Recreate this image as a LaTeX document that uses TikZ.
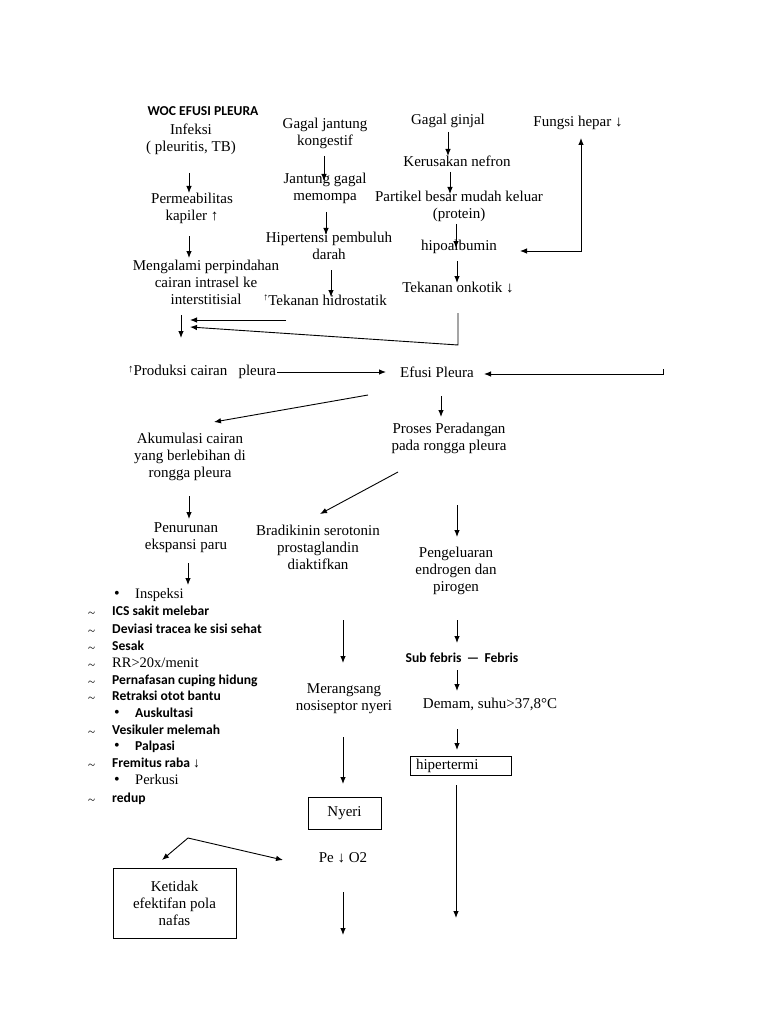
\documentclass[tikz,border=0pt]{standalone}
\usepackage{fontspec}
\setmainfont{Liberation Serif}
\newfontfamily\carl{Carlito}
\newfontfamily\lsans{Liberation Sans}
\newcommand\cbb{\carl\bfseries}
\usetikzlibrary{arrows.meta}
\begin{document}
\begin{tikzpicture}[x=1pt,y=-1pt,
  txt/.style={inner sep=0pt,align=center,font=\fontsize{15}{17}\selectfont},
  itm/.style={inner sep=0pt,anchor=base west,font=\fontsize{13}{15}\selectfont},
  sb/.style={itm,font=\cbb\fontsize{13.6}{15}\selectfont},
  box/.style={draw,line width=0.9pt,inner sep=0pt,align=center,font=\fontsize{15}{17}\selectfont},
  arr/.style={line width=0.9pt,-{Latex[length=7pt,width=5.5pt]}},
  ln/.style={line width=0.9pt}]
\useasboundingbox[fill=white] (0,0) rectangle (768,1024);

% ---- top block
\node[txt,font=\cbb\fontsize{13.6}{15}\selectfont] (title) at (203,111) {WOC EFUSI PLEURA};
\node[txt] (infeksi) at (191,139) {Infeksi\\( pleuritis, TB)};
\node[txt] (perm) at (192,208) {Permeabilitas\\kapiler ↑};
\node[txt] (meng) at (206,282) {Mengalami perpindahan\\cairan intrasel ke\\interstitisial};
\node[txt] (gjk) at (325,133) {Gagal jantung\\kongestif};
\node[txt] (jgm) at (325,188) {Jantung gagal\\memompa};
\node[txt] (hpd) at (329,246) {Hipertensi pembuluh\\darah};
\node[txt] (hidro) at (325,300) {\raisebox{5pt}{\fontsize{10}{10}\selectfont↑}Tekanan hidrostatik};
\node[txt] (gg) at (448,121) {Gagal ginjal};
\node[txt] (kn) at (457,161) {Kerusakan nefron};
\node[txt] (pb) at (459,206) {Partikel besar mudah keluar\\(protein)};
\node[txt] (hipo) at (459,247) {hipoalbumin};
\node[txt] (onk) at (458,288) {Tekanan onkotik ↓};
\node[txt] (hepar) at (578,123) {Fungsi hepar ↓};

% ---- connector points
\coordinate (c1a) at (189,173); \coordinate (c1b) at (189,193);
\coordinate (c2a) at (189,236); \coordinate (c2b) at (189,258);
\coordinate (c3a) at (324,156); \coordinate (c3b) at (324,181);
\coordinate (c4a) at (326,212); \coordinate (c4b) at (326,235);
\coordinate (c5a) at (331,270); \coordinate (c5b) at (331,297);
\coordinate (c6a) at (448,132); \coordinate (c6b) at (448,156);
\coordinate (c7a) at (450,172); \coordinate (c7b) at (450,194);
\coordinate (c8a) at (456,224); \coordinate (c8b) at (456,248);
\coordinate (c9a) at (457,261); \coordinate (c9b) at (457,283);
\coordinate (hA) at (520,251); \coordinate (hB) at (581,251); \coordinate (hC) at (581,138);
\coordinate (d1a) at (181,315); \coordinate (d1b) at (181,338);
\coordinate (h1a) at (286,320); \coordinate (h1b) at (190,320);
\coordinate (o1) at (458,313); \coordinate (o2) at (458,345); \coordinate (o3) at (190,327);

\draw[arr] (c1a) -- (c1b);
\draw[arr] (c2a) -- (c2b);
\draw[arr] (c3a) -- (c3b);
\draw[arr] (c4a) -- (c4b);
\draw[arr] (c5a) -- (c5b);
\draw[arr] (c6a) -- (c6b);
\draw[arr] (c7a) -- (c7b);
\draw[arr] (c8a) -- (c8b);
\draw[arr] (c9a) -- (c9b);
\draw[line width=0.9pt,{Latex[length=7pt,width=5.5pt]}-{Latex[length=7pt,width=5.5pt]}] (hA) -- (hB) -- (hC);
\draw[arr] (d1a) -- (d1b);
\draw[arr] (h1a) -- (h1b);
\draw[arr] (o1) -- (o2) -- (o3);

% ---- middle
\node[txt] (prod) at (202,372) {\raisebox{3pt}{\fontsize{11}{11}\selectfont\bfseries↑}Produksi cairan~~ pleura};
\node[txt] (efusi) at (437,372) {Efusi Pleura};
\node[txt] (akum) at (190,457) {Akumulasi cairan\\yang berlebihan di\\rongga pleura};
\node[txt] (proses) at (449,438) {Proses Peradangan\\pada rongga pleura};
\node[txt] (penur) at (186,538) {Penurunan\\ekspansi paru};
\node[txt] (brad) at (318,547) {Bradikinin serotonin\\prostaglandin\\diaktifkan};
\node[txt] (peng) at (456,571) {Pengeluaran\\endrogen dan\\pirogen};

\coordinate (p1) at (277,372); \coordinate (p2) at (386,372);
\coordinate (r1) at (663,369); \coordinate (r2) at (663,374); \coordinate (r3) at (484,374);
\coordinate (e1a) at (368,395); \coordinate (e1b) at (214,422);
\coordinate (e2a) at (441,396); \coordinate (e2b) at (441,417);
\coordinate (a1a) at (189,496); \coordinate (a1b) at (189,519);
\coordinate (b1a) at (398,472); \coordinate (b1b) at (320,514);
\coordinate (g1a) at (457,505); \coordinate (g1b) at (457,537);
\coordinate (q1a) at (188,563); \coordinate (q1b) at (188,585);

\draw[arr] (p1) -- (p2);
\draw[arr] (r1) -- (r2) -- (r3);
\draw[arr] (e1a) -- (e1b);
\draw[arr] (e2a) -- (e2b);
\draw[arr] (a1a) -- (a1b);
\draw[arr] (b1a) -- (b1b);
\draw[arr] (g1a) -- (g1b);
\draw[arr] (q1a) -- (q1b);

% ---- list
\newcommand\tl{\fontsize{13}{13}\selectfont\raisebox{-2.5pt}{\textasciitilde}}
\newcommand\bl{\fontsize{16}{16}\selectfont\textbullet}
\node[itm] (m1) at (114,598) {\bl};   \node[itm] (l1) at (135,598) {\fontsize{14.5}{15}\selectfont Inspeksi};
\node[itm] (m2) at (88,615) {\tl};    \node[sb] (l2) at (112,615) {ICS sakit melebar};
\node[itm] (m3) at (88,633) {\tl};    \node[sb] (l3) at (112,633) {Deviasi tracea ke sisi sehat};
\node[itm] (m4) at (88,650) {\tl};    \node[sb] (l4) at (112,650) {Sesak};
\node[itm] (m5) at (88,667) {\tl};    \node[itm] (l5) at (112,667) {\fontsize{14.5}{15}\selectfont RR>20x/menit};
\node[itm] (m6) at (88,684) {\tl};    \node[sb] (l6) at (112,684) {Pernafasan cuping hidung};
\node[itm] (m7) at (88,700) {\tl};    \node[sb] (l7) at (112,700) {Retraksi otot bantu};
\node[itm] (m8) at (114,717) {\bl};   \node[sb] (l8) at (135,717) {Auskultasi};
\node[itm] (m9) at (88,734) {\tl};    \node[sb] (l9) at (112,734) {Vesikuler melemah};
\node[itm] (m10) at (114,750) {\bl};  \node[sb] (l10) at (135,750) {Palpasi};
\node[itm] (m11) at (88,767) {\tl};   \node[sb] (l11) at (112,767) {Fremitus raba {\lsans\mdseries ↓}};
\node[itm] (m12) at (114,784) {\bl};  \node[itm] (l12) at (135,784) {\fontsize{14.5}{15}\selectfont Perkusi};
\node[itm] (m13) at (88,802) {\tl};   \node[sb] (l13) at (112,802) {redup};

% ---- lower right / middle
\node[txt] (merang) at (344,699) {Merangsang\\nosiseptor nyeri};
\node[box,minimum width=73pt,minimum height=32pt] (nyeri) at (344.5,813) {Nyeri};
\node[txt,font=\cbb\fontsize{13.6}{15}\selectfont] (febris) at (462,658) {Sub febris \,—\, Febris};
\node[txt] (demam) at (490,704) {Demam, suhu>37,8°C};
\node[box,text width=89pt,inner xsep=6pt,minimum height=19pt,align=left] (hiper) at (460.5,765.5) {hipertermi};
\node[txt] (pe) at (343,858) {Pe ↓ O2};
\node[box,minimum width=123pt,minimum height=70pt] (ket) at (174.5,903) {Ketidak\\efektifan pola\\nafas};

\coordinate (k1a) at (343,620); \coordinate (k1b) at (343,663);
\coordinate (k2a) at (343,737); \coordinate (k2b) at (343,784);
\coordinate (f1a) at (457,620); \coordinate (f1b) at (457,643);
\coordinate (f2a) at (457,670); \coordinate (f2b) at (457,691);
\coordinate (f3a) at (457,729); \coordinate (f3b) at (457,750);
\coordinate (f4a) at (456,785); \coordinate (f4b) at (456,918);
\coordinate (br) at (188,838); \coordinate (brL) at (162,860); \coordinate (brR) at (283,860);
\coordinate (z1a) at (343,892); \coordinate (z1b) at (343,935);

\draw[arr] (k1a) -- (k1b);
\draw[arr] (k2a) -- (k2b);
\draw[arr] (f1a) -- (f1b);
\draw[arr] (f2a) -- (f2b);
\draw[arr] (f3a) -- (f3b);
\draw[arr] (f4a) -- (f4b);
\draw[arr] (br) -- (brL);
\draw[arr] (br) -- (brR);
\draw[arr] (z1a) -- (z1b);
\end{tikzpicture}
\end{document}
